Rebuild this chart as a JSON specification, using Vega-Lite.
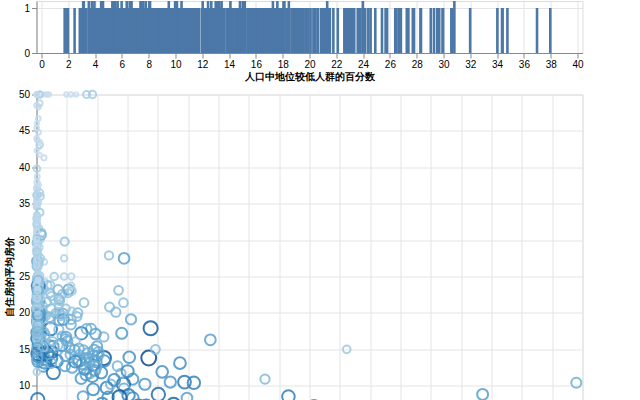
{"$schema":"https://vega.github.io/schema/vega-lite/v6.json","padding":{"left":3.5,"top":0,"right":5,"bottom":0},"spacing":3.5,"config":{"axis":{"gridColor":"#e4e4e4","titleFontSize":10}},
"data":{"values":[
{"crim":0.00632,"lstat":4.98,"medv":24.0},{"crim":0.02731,"lstat":9.14,"medv":21.6},{"crim":0.02729,"lstat":4.03,"medv":34.7},{"crim":0.03237,"lstat":2.94,"medv":33.4},{"crim":0.06905,"lstat":5.33,"medv":36.2},{"crim":0.02985,"lstat":5.21,"medv":28.7},{"crim":0.08829,"lstat":12.43,"medv":22.9},{"crim":0.14455,"lstat":19.15,"medv":27.1},{"crim":0.21124,"lstat":29.93,"medv":16.5},{"crim":0.17004,"lstat":17.1,"medv":18.9},
{"crim":0.22489,"lstat":20.45,"medv":15.0},{"crim":0.11747,"lstat":13.27,"medv":18.9},{"crim":0.09378,"lstat":15.71,"medv":21.7},{"crim":0.62976,"lstat":8.26,"medv":20.4},{"crim":0.63796,"lstat":10.26,"medv":18.2},{"crim":0.62739,"lstat":8.47,"medv":19.9},{"crim":1.05393,"lstat":6.58,"medv":23.1},{"crim":0.7842,"lstat":14.67,"medv":17.5},{"crim":0.80271,"lstat":11.69,"medv":20.2},{"crim":0.7258,"lstat":11.28,"medv":18.2},
{"crim":1.25179,"lstat":21.02,"medv":13.6},{"crim":0.85204,"lstat":13.83,"medv":19.6},{"crim":1.23247,"lstat":18.72,"medv":15.2},{"crim":0.98843,"lstat":19.88,"medv":14.5},{"crim":0.75026,"lstat":16.3,"medv":15.6},{"crim":0.84054,"lstat":16.51,"medv":13.9},{"crim":0.67191,"lstat":14.81,"medv":16.6},{"crim":0.95577,"lstat":17.28,"medv":14.8},{"crim":0.77299,"lstat":12.8,"medv":18.4},{"crim":1.00245,"lstat":11.98,"medv":21.0},
{"crim":1.13081,"lstat":22.6,"medv":12.7},{"crim":1.35472,"lstat":13.04,"medv":14.5},{"crim":1.38799,"lstat":27.71,"medv":13.2},{"crim":1.15172,"lstat":18.35,"medv":13.1},{"crim":1.61282,"lstat":20.34,"medv":13.5},{"crim":0.06417,"lstat":9.68,"medv":18.9},{"crim":0.09744,"lstat":11.41,"medv":20.0},{"crim":0.08014,"lstat":8.77,"medv":21.0},{"crim":0.17505,"lstat":10.13,"medv":24.7},{"crim":0.02763,"lstat":4.32,"medv":30.8},
{"crim":0.03359,"lstat":1.98,"medv":34.9},{"crim":0.12744,"lstat":4.84,"medv":26.6},{"crim":0.1415,"lstat":5.81,"medv":25.3},{"crim":0.15936,"lstat":7.44,"medv":24.7},{"crim":0.12269,"lstat":9.55,"medv":21.2},{"crim":0.17142,"lstat":10.21,"medv":19.3},{"crim":0.18836,"lstat":14.15,"medv":20.0},{"crim":0.22927,"lstat":18.8,"medv":16.6},{"crim":0.25387,"lstat":30.81,"medv":14.4},{"crim":0.21977,"lstat":16.2,"medv":19.4},
{"crim":0.08873,"lstat":13.45,"medv":19.7},{"crim":0.04337,"lstat":9.43,"medv":20.5},{"crim":0.0536,"lstat":5.28,"medv":25.0},{"crim":0.04981,"lstat":8.43,"medv":23.4},{"crim":0.0136,"lstat":14.8,"medv":18.9},{"crim":0.01311,"lstat":4.81,"medv":35.4},{"crim":0.02055,"lstat":5.77,"medv":24.7},{"crim":0.01432,"lstat":3.95,"medv":31.6},{"crim":0.15445,"lstat":6.86,"medv":23.3},{"crim":0.10328,"lstat":9.22,"medv":19.6},
{"crim":0.14932,"lstat":13.15,"medv":18.7},{"crim":0.17171,"lstat":14.44,"medv":16.0},{"crim":0.11027,"lstat":6.73,"medv":22.2},{"crim":0.1265,"lstat":9.5,"medv":25.0},{"crim":0.01951,"lstat":8.05,"medv":33.0},{"crim":0.03584,"lstat":4.67,"medv":23.5},{"crim":0.04379,"lstat":10.24,"medv":19.4},{"crim":0.05789,"lstat":8.1,"medv":22.0},{"crim":0.13554,"lstat":13.09,"medv":17.4},{"crim":0.12816,"lstat":8.79,"medv":20.9},
{"crim":0.08826,"lstat":6.72,"medv":24.2},{"crim":0.15876,"lstat":9.88,"medv":21.7},{"crim":0.09164,"lstat":5.52,"medv":22.8},{"crim":0.19539,"lstat":7.54,"medv":23.4},{"crim":0.07896,"lstat":6.78,"medv":24.1},{"crim":0.09512,"lstat":8.94,"medv":21.4},{"crim":0.10153,"lstat":11.97,"medv":20.0},{"crim":0.08707,"lstat":10.27,"medv":20.8},{"crim":0.05646,"lstat":12.34,"medv":21.2},{"crim":0.08387,"lstat":9.1,"medv":20.3},
{"crim":0.04113,"lstat":5.29,"medv":28.0},{"crim":0.04462,"lstat":7.22,"medv":23.9},{"crim":0.03659,"lstat":6.72,"medv":24.8},{"crim":0.03551,"lstat":7.51,"medv":22.9},{"crim":0.05059,"lstat":9.62,"medv":23.9},{"crim":0.05735,"lstat":6.53,"medv":26.6},{"crim":0.05188,"lstat":12.86,"medv":22.5},{"crim":0.07151,"lstat":8.44,"medv":22.2},{"crim":0.0566,"lstat":5.5,"medv":23.6},{"crim":0.05302,"lstat":5.7,"medv":28.7},
{"crim":0.04684,"lstat":8.81,"medv":22.6},{"crim":0.03932,"lstat":8.2,"medv":22.0},{"crim":0.04203,"lstat":8.16,"medv":22.9},{"crim":0.02875,"lstat":6.21,"medv":25.0},{"crim":0.04294,"lstat":10.59,"medv":20.6},{"crim":0.12204,"lstat":6.65,"medv":28.4},{"crim":0.11504,"lstat":11.34,"medv":21.4},{"crim":0.12083,"lstat":4.21,"medv":38.7},{"crim":0.08187,"lstat":3.57,"medv":43.8},{"crim":0.0686,"lstat":6.19,"medv":33.2},
{"crim":0.14866,"lstat":9.42,"medv":27.5},{"crim":0.11432,"lstat":7.67,"medv":26.5},{"crim":0.22876,"lstat":10.63,"medv":18.6},{"crim":0.21161,"lstat":13.44,"medv":19.3},{"crim":0.1396,"lstat":12.33,"medv":20.1},{"crim":0.13262,"lstat":16.47,"medv":19.5},{"crim":0.1712,"lstat":18.66,"medv":19.5},{"crim":0.13117,"lstat":14.09,"medv":20.4},{"crim":0.12802,"lstat":12.27,"medv":19.8},{"crim":0.26363,"lstat":15.55,"medv":19.4},
{"crim":0.10793,"lstat":13.0,"medv":21.7},{"crim":0.10084,"lstat":10.16,"medv":22.8},{"crim":0.12329,"lstat":16.21,"medv":18.8},{"crim":0.22212,"lstat":17.09,"medv":18.7},{"crim":0.14231,"lstat":10.45,"medv":18.5},{"crim":0.17134,"lstat":15.76,"medv":18.3},{"crim":0.13158,"lstat":12.04,"medv":21.2},{"crim":0.15098,"lstat":10.3,"medv":19.2},{"crim":0.13058,"lstat":15.37,"medv":20.4},{"crim":0.14476,"lstat":13.61,"medv":19.3},
{"crim":0.06899,"lstat":14.37,"medv":22.0},{"crim":0.07165,"lstat":14.27,"medv":20.3},{"crim":0.09299,"lstat":17.93,"medv":20.5},{"crim":0.15038,"lstat":25.41,"medv":17.3},{"crim":0.09849,"lstat":17.58,"medv":18.8},{"crim":0.16902,"lstat":14.81,"medv":21.4},{"crim":0.38735,"lstat":27.26,"medv":15.7},{"crim":0.25915,"lstat":17.19,"medv":16.2},{"crim":0.32543,"lstat":15.39,"medv":18.0},{"crim":0.88125,"lstat":18.34,"medv":14.3},
{"crim":0.34006,"lstat":12.6,"medv":19.2},{"crim":1.19294,"lstat":12.26,"medv":19.6},{"crim":0.59005,"lstat":11.12,"medv":23.0},{"crim":0.32982,"lstat":15.03,"medv":18.4},{"crim":0.97617,"lstat":17.31,"medv":15.6},{"crim":0.55778,"lstat":16.96,"medv":18.1},{"crim":0.32264,"lstat":16.9,"medv":17.4},{"crim":0.35233,"lstat":14.59,"medv":17.1},{"crim":0.2498,"lstat":21.32,"medv":13.3},{"crim":0.54452,"lstat":18.46,"medv":17.8},
{"crim":0.2909,"lstat":24.16,"medv":14.0},{"crim":1.62864,"lstat":34.41,"medv":14.4},{"crim":3.32105,"lstat":26.82,"medv":13.4},{"crim":4.0974,"lstat":26.42,"medv":15.6},{"crim":2.77974,"lstat":29.29,"medv":11.8},{"crim":2.37934,"lstat":27.8,"medv":13.8},{"crim":2.15505,"lstat":16.65,"medv":15.6},{"crim":2.36862,"lstat":29.53,"medv":14.6},{"crim":2.33099,"lstat":28.32,"medv":17.8},{"crim":2.73397,"lstat":21.45,"medv":15.4},
{"crim":1.6566,"lstat":14.1,"medv":21.5},{"crim":1.49632,"lstat":13.28,"medv":19.6},{"crim":1.12658,"lstat":12.12,"medv":15.3},{"crim":2.14918,"lstat":15.79,"medv":19.4},{"crim":1.41385,"lstat":15.12,"medv":17.0},{"crim":3.53501,"lstat":15.02,"medv":15.6},{"crim":2.44668,"lstat":16.14,"medv":13.1},{"crim":1.22358,"lstat":4.59,"medv":41.3},{"crim":1.34284,"lstat":6.43,"medv":24.3},{"crim":1.42502,"lstat":7.39,"medv":23.3},
{"crim":1.27346,"lstat":5.5,"medv":27.0},{"crim":1.46336,"lstat":1.73,"medv":50.0},{"crim":1.83377,"lstat":1.92,"medv":50.0},{"crim":1.51902,"lstat":3.32,"medv":50.0},{"crim":2.24236,"lstat":11.64,"medv":22.7},{"crim":2.924,"lstat":9.81,"medv":25.0},{"crim":2.01019,"lstat":3.7,"medv":50.0},{"crim":1.80028,"lstat":12.14,"medv":23.8},{"crim":2.3004,"lstat":11.1,"medv":23.8},{"crim":2.44953,"lstat":11.32,"medv":22.3},
{"crim":1.20742,"lstat":14.43,"medv":17.4},{"crim":2.3139,"lstat":12.03,"medv":19.1},{"crim":0.13914,"lstat":14.69,"medv":23.1},{"crim":0.09178,"lstat":9.04,"medv":23.6},{"crim":0.08447,"lstat":9.64,"medv":22.6},{"crim":0.06664,"lstat":5.33,"medv":29.4},{"crim":0.07022,"lstat":10.11,"medv":23.2},{"crim":0.05425,"lstat":6.29,"medv":24.6},{"crim":0.06642,"lstat":6.92,"medv":29.9},{"crim":0.0578,"lstat":5.04,"medv":37.2},
{"crim":0.06588,"lstat":7.56,"medv":39.8},{"crim":0.06888,"lstat":9.45,"medv":36.2},{"crim":0.09103,"lstat":4.82,"medv":37.9},{"crim":0.10008,"lstat":5.68,"medv":32.5},{"crim":0.08308,"lstat":13.98,"medv":26.4},{"crim":0.06047,"lstat":13.15,"medv":29.6},{"crim":0.05602,"lstat":4.45,"medv":50.0},{"crim":0.07875,"lstat":6.68,"medv":32.0},{"crim":0.12579,"lstat":4.56,"medv":29.8},{"crim":0.0837,"lstat":5.39,"medv":34.9},
{"crim":0.09068,"lstat":5.1,"medv":37.0},{"crim":0.06911,"lstat":4.69,"medv":30.5},{"crim":0.08664,"lstat":2.87,"medv":36.4},{"crim":0.02187,"lstat":5.03,"medv":31.1},{"crim":0.01439,"lstat":4.38,"medv":29.1},{"crim":0.01381,"lstat":2.97,"medv":50.0},{"crim":0.04011,"lstat":4.08,"medv":33.3},{"crim":0.04666,"lstat":8.61,"medv":30.3},{"crim":0.03768,"lstat":6.62,"medv":34.6},{"crim":0.0315,"lstat":4.56,"medv":34.9},
{"crim":0.01778,"lstat":4.45,"medv":32.9},{"crim":0.03445,"lstat":7.43,"medv":24.1},{"crim":0.02177,"lstat":3.11,"medv":42.3},{"crim":0.0351,"lstat":3.81,"medv":48.5},{"crim":0.02009,"lstat":2.88,"medv":50.0},{"crim":0.13642,"lstat":10.87,"medv":22.6},{"crim":0.22969,"lstat":10.97,"medv":24.4},{"crim":0.25199,"lstat":18.06,"medv":22.5},{"crim":0.13587,"lstat":14.66,"medv":24.4},{"crim":0.43571,"lstat":23.09,"medv":20.0},
{"crim":0.17446,"lstat":17.27,"medv":21.7},{"crim":0.37578,"lstat":23.98,"medv":19.3},{"crim":0.21719,"lstat":16.03,"medv":22.4},{"crim":0.14052,"lstat":9.38,"medv":28.1},{"crim":0.28955,"lstat":29.55,"medv":23.7},{"crim":0.19802,"lstat":9.47,"medv":25.0},{"crim":0.0456,"lstat":13.51,"medv":23.3},{"crim":0.07013,"lstat":9.69,"medv":28.7},{"crim":0.11069,"lstat":17.92,"medv":21.5},{"crim":0.11425,"lstat":10.5,"medv":23.0},
{"crim":0.35809,"lstat":9.71,"medv":26.7},{"crim":0.40771,"lstat":21.46,"medv":21.7},{"crim":0.62356,"lstat":9.93,"medv":27.5},{"crim":0.6147,"lstat":7.6,"medv":30.1},{"crim":0.31533,"lstat":4.14,"medv":44.8},{"crim":0.52693,"lstat":4.63,"medv":50.0},{"crim":0.38214,"lstat":3.13,"medv":37.6},{"crim":0.41238,"lstat":6.36,"medv":31.6},{"crim":0.29819,"lstat":3.92,"medv":46.7},{"crim":0.44178,"lstat":3.76,"medv":31.5},
{"crim":0.537,"lstat":11.65,"medv":24.3},{"crim":0.46296,"lstat":5.25,"medv":31.7},{"crim":0.57529,"lstat":2.47,"medv":41.7},{"crim":0.33147,"lstat":3.95,"medv":48.3},{"crim":0.44791,"lstat":8.05,"medv":29.0},{"crim":0.33045,"lstat":10.88,"medv":24.0},{"crim":0.52058,"lstat":9.54,"medv":25.1},{"crim":0.51183,"lstat":4.73,"medv":31.5},{"crim":0.08244,"lstat":6.36,"medv":23.7},{"crim":0.09252,"lstat":7.37,"medv":23.3},
{"crim":0.11329,"lstat":11.38,"medv":22.0},{"crim":0.10612,"lstat":12.4,"medv":20.1},{"crim":0.1029,"lstat":11.22,"medv":22.2},{"crim":0.12757,"lstat":5.19,"medv":23.7},{"crim":0.20608,"lstat":12.5,"medv":17.6},{"crim":0.19133,"lstat":18.46,"medv":18.5},{"crim":0.33983,"lstat":9.16,"medv":24.3},{"crim":0.19657,"lstat":10.15,"medv":20.5},{"crim":0.16439,"lstat":9.52,"medv":24.5},{"crim":0.19073,"lstat":6.56,"medv":26.2},
{"crim":0.1403,"lstat":5.9,"medv":24.4},{"crim":0.21409,"lstat":3.59,"medv":24.8},{"crim":0.08221,"lstat":3.53,"medv":29.6},{"crim":0.36894,"lstat":3.54,"medv":42.8},{"crim":0.04819,"lstat":6.57,"medv":21.9},{"crim":0.03548,"lstat":9.25,"medv":20.9},{"crim":0.01538,"lstat":3.11,"medv":44.0},{"crim":0.61154,"lstat":5.12,"medv":50.0},{"crim":0.66351,"lstat":7.79,"medv":36.0},{"crim":0.65665,"lstat":6.9,"medv":30.1},
{"crim":0.54011,"lstat":9.59,"medv":33.8},{"crim":0.53412,"lstat":7.26,"medv":43.1},{"crim":0.52014,"lstat":5.91,"medv":48.8},{"crim":0.82526,"lstat":11.25,"medv":31.0},{"crim":0.55007,"lstat":8.1,"medv":36.5},{"crim":0.76162,"lstat":10.45,"medv":22.8},{"crim":0.7857,"lstat":14.79,"medv":30.7},{"crim":0.57834,"lstat":7.44,"medv":50.0},{"crim":0.5405,"lstat":3.16,"medv":43.5},{"crim":0.09065,"lstat":13.65,"medv":20.7},
{"crim":0.29916,"lstat":13.0,"medv":21.1},{"crim":0.16211,"lstat":6.59,"medv":25.2},{"crim":0.1146,"lstat":7.73,"medv":24.4},{"crim":0.22188,"lstat":6.58,"medv":35.2},{"crim":0.05644,"lstat":3.53,"medv":32.4},{"crim":0.09604,"lstat":2.98,"medv":32.0},{"crim":0.10469,"lstat":6.05,"medv":33.2},{"crim":0.06127,"lstat":4.16,"medv":33.1},{"crim":0.07978,"lstat":7.19,"medv":29.1},{"crim":0.21038,"lstat":4.85,"medv":35.1},
{"crim":0.03578,"lstat":3.76,"medv":45.4},{"crim":0.03705,"lstat":4.59,"medv":35.4},{"crim":0.06129,"lstat":3.01,"medv":46.0},{"crim":0.01501,"lstat":3.16,"medv":50.0},{"crim":0.00906,"lstat":7.85,"medv":32.2},{"crim":0.01096,"lstat":8.23,"medv":22.0},{"crim":0.01965,"lstat":12.93,"medv":20.1},{"crim":0.03871,"lstat":7.14,"medv":23.2},{"crim":0.0459,"lstat":7.6,"medv":22.3},{"crim":0.04297,"lstat":9.51,"medv":24.8},
{"crim":0.03502,"lstat":3.33,"medv":28.5},{"crim":0.07886,"lstat":3.56,"medv":37.3},{"crim":0.03615,"lstat":4.7,"medv":27.9},{"crim":0.08265,"lstat":8.58,"medv":23.9},{"crim":0.08199,"lstat":10.4,"medv":21.7},{"crim":0.12932,"lstat":6.27,"medv":28.6},{"crim":0.05372,"lstat":7.39,"medv":27.1},{"crim":0.14103,"lstat":15.84,"medv":20.3},{"crim":0.06466,"lstat":4.97,"medv":22.5},{"crim":0.05561,"lstat":4.74,"medv":29.0},
{"crim":0.04417,"lstat":6.07,"medv":24.8},{"crim":0.03537,"lstat":9.5,"medv":22.0},{"crim":0.09266,"lstat":8.67,"medv":26.4},{"crim":0.1,"lstat":4.86,"medv":33.1},{"crim":0.05515,"lstat":6.93,"medv":36.1},{"crim":0.05479,"lstat":8.93,"medv":28.4},{"crim":0.07503,"lstat":6.47,"medv":33.4},{"crim":0.04932,"lstat":7.53,"medv":28.2},{"crim":0.49298,"lstat":4.54,"medv":22.8},{"crim":0.3494,"lstat":9.97,"medv":20.3},
{"crim":2.63548,"lstat":12.64,"medv":16.1},{"crim":0.79041,"lstat":5.98,"medv":22.1},{"crim":0.26169,"lstat":11.72,"medv":19.4},{"crim":0.26938,"lstat":7.9,"medv":21.6},{"crim":0.3692,"lstat":9.28,"medv":23.8},{"crim":0.25356,"lstat":11.5,"medv":16.2},{"crim":0.31827,"lstat":18.33,"medv":17.8},{"crim":0.24522,"lstat":15.94,"medv":19.8},{"crim":0.40202,"lstat":10.36,"medv":23.1},{"crim":0.47547,"lstat":12.73,"medv":21.0},
{"crim":0.1676,"lstat":7.2,"medv":23.8},{"crim":0.18159,"lstat":6.87,"medv":23.1},{"crim":0.35114,"lstat":7.7,"medv":20.4},{"crim":0.28392,"lstat":11.74,"medv":18.5},{"crim":0.34109,"lstat":6.12,"medv":25.0},{"crim":0.19186,"lstat":5.08,"medv":24.6},{"crim":0.30347,"lstat":6.15,"medv":23.0},{"crim":0.24103,"lstat":12.79,"medv":22.2},{"crim":0.06617,"lstat":9.97,"medv":19.3},{"crim":0.06724,"lstat":7.34,"medv":22.6},
{"crim":0.04544,"lstat":9.09,"medv":19.8},{"crim":0.05023,"lstat":12.43,"medv":17.1},{"crim":0.03466,"lstat":7.83,"medv":19.4},{"crim":0.05083,"lstat":5.68,"medv":22.2},{"crim":0.03738,"lstat":6.75,"medv":20.7},{"crim":0.03961,"lstat":8.01,"medv":21.1},{"crim":0.03427,"lstat":9.8,"medv":19.5},{"crim":0.03041,"lstat":10.56,"medv":18.5},{"crim":0.03306,"lstat":8.51,"medv":20.6},{"crim":0.05497,"lstat":9.74,"medv":19.0},
{"crim":0.06151,"lstat":9.29,"medv":18.7},{"crim":0.01301,"lstat":5.49,"medv":32.7},{"crim":0.02498,"lstat":8.65,"medv":16.5},{"crim":0.02543,"lstat":7.18,"medv":23.9},{"crim":0.03049,"lstat":4.61,"medv":31.2},{"crim":0.03113,"lstat":10.53,"medv":17.5},{"crim":0.06162,"lstat":12.67,"medv":17.2},{"crim":0.0187,"lstat":6.36,"medv":23.1},{"crim":0.01501,"lstat":5.99,"medv":24.5},{"crim":0.02899,"lstat":5.89,"medv":26.6},
{"crim":0.06211,"lstat":5.98,"medv":22.9},{"crim":0.0795,"lstat":5.49,"medv":24.1},{"crim":0.07244,"lstat":7.79,"medv":18.6},{"crim":0.01709,"lstat":4.5,"medv":30.1},{"crim":0.04301,"lstat":8.05,"medv":18.2},{"crim":0.10659,"lstat":5.57,"medv":20.6},{"crim":8.98296,"lstat":17.6,"medv":17.8},{"crim":3.8497,"lstat":13.27,"medv":21.7},{"crim":5.20177,"lstat":11.48,"medv":22.7},{"crim":4.26131,"lstat":12.67,"medv":22.6},
{"crim":4.54192,"lstat":7.79,"medv":25.0},{"crim":3.83684,"lstat":14.19,"medv":19.9},{"crim":3.67822,"lstat":10.19,"medv":20.8},{"crim":4.22239,"lstat":14.64,"medv":16.8},{"crim":3.47428,"lstat":5.29,"medv":21.9},{"crim":4.55587,"lstat":7.12,"medv":27.5},{"crim":3.69695,"lstat":14.0,"medv":21.9},{"crim":13.5222,"lstat":13.33,"medv":23.1},{"crim":4.89822,"lstat":3.26,"medv":50.0},{"crim":5.66998,"lstat":3.73,"medv":50.0},
{"crim":6.53876,"lstat":2.96,"medv":50.0},{"crim":9.2323,"lstat":9.53,"medv":50.0},{"crim":8.26725,"lstat":8.88,"medv":50.0},{"crim":11.1081,"lstat":34.77,"medv":13.8},{"crim":18.4982,"lstat":37.97,"medv":13.8},{"crim":19.6091,"lstat":13.44,"medv":15.0},{"crim":15.288,"lstat":23.24,"medv":13.9},{"crim":9.82349,"lstat":21.24,"medv":13.3},{"crim":23.6482,"lstat":23.69,"medv":13.1},{"crim":17.8667,"lstat":21.78,"medv":10.2},
{"crim":88.9762,"lstat":17.21,"medv":10.4},{"crim":15.8744,"lstat":21.08,"medv":10.9},{"crim":9.18702,"lstat":23.6,"medv":11.3},{"crim":7.99248,"lstat":24.56,"medv":12.3},{"crim":20.0849,"lstat":30.63,"medv":8.8},{"crim":16.8118,"lstat":30.81,"medv":7.2},{"crim":24.3938,"lstat":28.28,"medv":10.5},{"crim":22.5971,"lstat":31.99,"medv":7.4},{"crim":14.3337,"lstat":30.62,"medv":10.2},{"crim":8.15174,"lstat":20.85,"medv":11.5},
{"crim":6.96215,"lstat":17.11,"medv":15.1},{"crim":5.29305,"lstat":18.76,"medv":23.2},{"crim":11.5779,"lstat":25.68,"medv":9.7},{"crim":8.64476,"lstat":15.17,"medv":13.8},{"crim":13.3598,"lstat":16.35,"medv":12.7},{"crim":8.71675,"lstat":17.12,"medv":13.1},{"crim":5.87205,"lstat":19.37,"medv":12.5},{"crim":7.67202,"lstat":19.92,"medv":8.5},{"crim":38.3518,"lstat":30.59,"medv":5.0},{"crim":9.91655,"lstat":29.97,"medv":6.3},
{"crim":25.0461,"lstat":26.77,"medv":5.6},{"crim":14.2362,"lstat":20.32,"medv":7.2},{"crim":9.59571,"lstat":20.31,"medv":12.1},{"crim":24.8017,"lstat":19.77,"medv":8.3},{"crim":41.5292,"lstat":27.38,"medv":8.5},{"crim":67.9208,"lstat":22.98,"medv":5.0},{"crim":20.7162,"lstat":23.34,"medv":11.9},{"crim":11.9511,"lstat":12.13,"medv":27.9},{"crim":7.40389,"lstat":26.4,"medv":17.2},{"crim":14.4383,"lstat":19.78,"medv":27.5},
{"crim":51.1358,"lstat":10.11,"medv":15.0},{"crim":14.0507,"lstat":21.22,"medv":17.2},{"crim":18.811,"lstat":34.37,"medv":17.9},{"crim":28.6558,"lstat":20.08,"medv":16.3},{"crim":45.7461,"lstat":36.98,"medv":7.0},{"crim":18.0846,"lstat":29.05,"medv":7.2},{"crim":10.8342,"lstat":25.79,"medv":7.5},{"crim":25.9406,"lstat":26.64,"medv":10.4},{"crim":73.5341,"lstat":20.62,"medv":8.8},{"crim":11.8123,"lstat":22.74,"medv":8.4},
{"crim":11.0874,"lstat":15.02,"medv":16.7},{"crim":7.02259,"lstat":15.7,"medv":14.2},{"crim":12.0482,"lstat":14.1,"medv":20.8},{"crim":7.05042,"lstat":23.29,"medv":13.4},{"crim":8.79212,"lstat":17.16,"medv":11.7},{"crim":15.8603,"lstat":24.39,"medv":8.3},{"crim":12.2472,"lstat":15.69,"medv":10.2},{"crim":37.6619,"lstat":14.52,"medv":10.9},{"crim":7.36711,"lstat":21.52,"medv":11.0},{"crim":9.33889,"lstat":24.08,"medv":9.5},
{"crim":8.49213,"lstat":17.64,"medv":14.5},{"crim":10.0623,"lstat":19.69,"medv":14.1},{"crim":6.44405,"lstat":12.03,"medv":16.1},{"crim":5.58107,"lstat":16.22,"medv":14.3},{"crim":13.9134,"lstat":15.17,"medv":11.7},{"crim":11.1604,"lstat":23.27,"medv":13.4},{"crim":14.4208,"lstat":18.05,"medv":9.6},{"crim":15.1772,"lstat":26.45,"medv":8.7},{"crim":13.6781,"lstat":34.02,"medv":8.4},{"crim":9.39063,"lstat":22.88,"medv":12.8},
{"crim":22.0511,"lstat":22.11,"medv":10.5},{"crim":9.72418,"lstat":19.52,"medv":17.1},{"crim":5.66637,"lstat":16.59,"medv":18.4},{"crim":9.96654,"lstat":18.85,"medv":15.4},{"crim":12.8023,"lstat":23.79,"medv":10.8},{"crim":10.6718,"lstat":23.98,"medv":11.8},{"crim":6.28807,"lstat":17.79,"medv":14.9},{"crim":9.92485,"lstat":16.44,"medv":12.6},{"crim":9.32909,"lstat":18.13,"medv":14.1},{"crim":7.52601,"lstat":19.31,"medv":13.0},
{"crim":6.71772,"lstat":17.44,"medv":13.4},{"crim":5.44114,"lstat":17.73,"medv":15.2},{"crim":5.09017,"lstat":17.27,"medv":16.1},{"crim":8.24809,"lstat":16.74,"medv":17.8},{"crim":9.51363,"lstat":18.71,"medv":14.9},{"crim":4.75237,"lstat":18.13,"medv":14.1},{"crim":4.66883,"lstat":19.01,"medv":12.7},{"crim":8.20058,"lstat":16.94,"medv":13.5},{"crim":7.75223,"lstat":16.23,"medv":14.9},{"crim":6.80117,"lstat":14.7,"medv":20.0},
{"crim":4.81213,"lstat":16.42,"medv":16.4},{"crim":3.69311,"lstat":14.65,"medv":17.7},{"crim":6.65492,"lstat":13.99,"medv":19.5},{"crim":5.82115,"lstat":10.29,"medv":20.2},{"crim":7.83932,"lstat":13.22,"medv":21.4},{"crim":3.1636,"lstat":14.13,"medv":19.9},{"crim":3.77498,"lstat":17.15,"medv":19.0},{"crim":4.42228,"lstat":21.32,"medv":19.1},{"crim":15.5757,"lstat":18.13,"medv":19.1},{"crim":13.0751,"lstat":14.76,"medv":20.1},
{"crim":4.34879,"lstat":16.29,"medv":19.9},{"crim":4.03841,"lstat":12.87,"medv":19.6},{"crim":3.56868,"lstat":14.36,"medv":23.2},{"crim":4.64689,"lstat":11.66,"medv":29.8},{"crim":8.05579,"lstat":18.14,"medv":13.8},{"crim":6.39312,"lstat":24.1,"medv":13.3},{"crim":4.87141,"lstat":18.68,"medv":16.7},{"crim":15.0234,"lstat":24.91,"medv":12.0},{"crim":10.233,"lstat":18.03,"medv":14.6},{"crim":14.3337,"lstat":13.11,"medv":21.4},
{"crim":5.82401,"lstat":10.74,"medv":23.0},{"crim":5.70818,"lstat":7.74,"medv":23.7},{"crim":5.73116,"lstat":7.01,"medv":25.0},{"crim":2.81838,"lstat":10.42,"medv":21.8},{"crim":2.37857,"lstat":13.34,"medv":20.6},{"crim":3.67367,"lstat":10.58,"medv":21.2},{"crim":5.69175,"lstat":14.98,"medv":19.1},{"crim":4.83567,"lstat":11.45,"medv":20.6},{"crim":0.15086,"lstat":18.06,"medv":15.2},{"crim":0.18337,"lstat":23.97,"medv":7.0},
{"crim":0.20746,"lstat":29.68,"medv":8.1},{"crim":0.10574,"lstat":18.07,"medv":13.6},{"crim":0.11132,"lstat":13.35,"medv":20.1},{"crim":0.17331,"lstat":12.01,"medv":21.8},{"crim":0.27957,"lstat":13.59,"medv":24.5},{"crim":0.17899,"lstat":17.6,"medv":23.1},{"crim":0.2896,"lstat":21.14,"medv":19.7},{"crim":0.26838,"lstat":14.1,"medv":18.3},{"crim":0.23912,"lstat":12.92,"medv":21.2},{"crim":0.17783,"lstat":15.1,"medv":17.5},
{"crim":0.22438,"lstat":14.33,"medv":16.8},{"crim":0.06263,"lstat":9.67,"medv":22.4},{"crim":0.04527,"lstat":9.08,"medv":20.6},{"crim":0.06076,"lstat":5.64,"medv":23.9},{"crim":0.10959,"lstat":6.48,"medv":22.0},{"crim":0.04741,"lstat":7.88,"medv":11.9}
]},
"vconcat":[
{"width":546,"height":52,"mark":{"type":"bar","size":2.6,"clip":true},
"encoding":{"x":{"field":"lstat","type":"quantitative","title":"人口中地位较低人群的百分数","scale":{"domain":[0,40]},"axis":{"values":[0,2,4,6,8,10,12,14,16,18,20,22,24,26,28,30,32,34,36,38,40],"labelPadding":1,"titlePadding":2}},
"y":{"aggregate":"count","type":"quantitative","title":null,"scale":{"domain":[0,1.157]},"axis":{"values":[0,1],"format":"d"}}}},
{"width":546,"height":364,"mark":{"type":"point","strokeWidth":2,"opacity":0.85},
"encoding":{"x":{"field":"crim","type":"quantitative","title":"犯罪率","axis":{"values":[0,5,10,15,20,25,30,35,40,45,50,55,60,65,70,75,80,85,90]},"scale":{"domain":[0,90]}},
"y":{"field":"medv","type":"quantitative","title":"自住房的平均房价"},
"size":{"field":"lstat","type":"quantitative","legend":null,"scale":{"range":[0,220]}},
"color":{"field":"lstat","type":"quantitative","legend":null}}}
]}
